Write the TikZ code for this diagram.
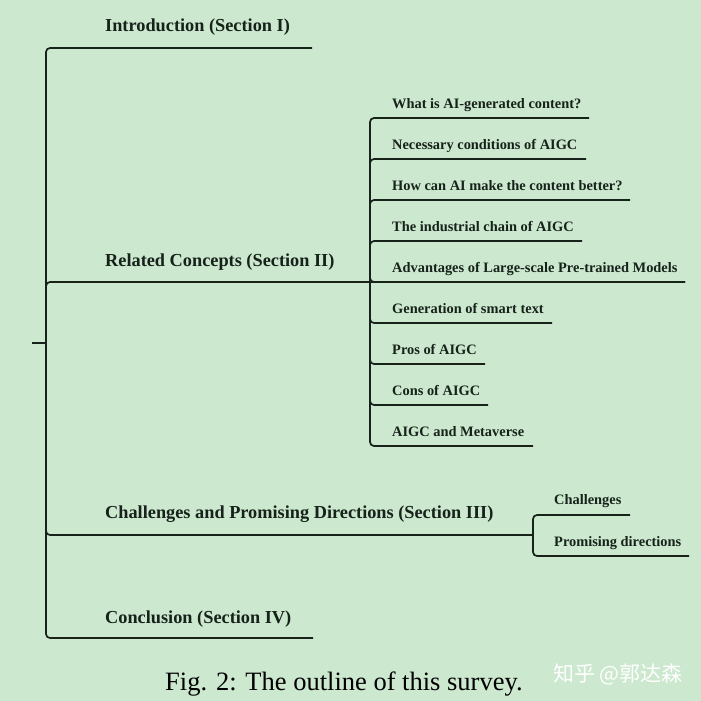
\documentclass[tikz,border=0pt]{standalone}
\usepackage{fontspec}
\setmainfont{Liberation Serif}
\newfontfamily\cjk{Noto Sans CJK SC}
\definecolor{bgcol}{RGB}{204,232,207}
\definecolor{inkcol}{RGB}{22,34,26}
\tikzset{
  branch/.style={draw=inkcol, line width=1.7pt, rounded corners=4pt},
  seclabel/.style={anchor=base west, inner sep=0pt, text=inkcol, font=\bfseries\fontsize{18.3}{20}\selectfont},
  sublabel/.style={anchor=base west, inner sep=0pt, text=inkcol, font=\bfseries\fontsize{14.4}{16}\selectfont},
}
\begin{document}
\begin{tikzpicture}[x=1pt, y=-1pt]
	%background and page size
	\fill[bgcol] (0,0) rectangle (701,701);
	\useasboundingbox (0,0) rectangle (701,701);
	
	%trunk
	\coordinate (root) at (46,343);
	\coordinate (stub) at (32,343);
	\draw[branch] (stub) -- (root);
	
	%sections
	\node[seclabel] (intro) at (105,32) {Introduction (Section I)};
	\coordinate (introend) at (312,48);
	\draw[branch] (root) |- (introend);
	
	\node[seclabel] (related) at (105,266) {Related Concepts (Section II)};
	\coordinate (relend) at (685,282);
	\coordinate (relsplit) at (370,282);
	\draw[branch] (root) |- (relend);
	
	\node[seclabel] (challenge) at (105,518) {Challenges and Promising Directions (Section III)};
	\coordinate (chalsplit) at (533,535);
	\draw[branch] (root) |- (chalsplit);
	
	\node[seclabel] (conclusion) at (105,623) {Conclusion (Section IV)};
	\coordinate (concend) at (313,638);
	\draw[branch] (root) |- (concend);
	
	%related concepts
	\foreach \name/\txt/\y/\xe in {what/What is AI-generated content?/118/589,
		cond/Necessary conditions of AIGC/159/586,
		better/How can AI make the content better?/200/630,
		chain/The industrial chain of AIGC/241/582,
		adv/Advantages of Large-scale Pre-trained Models/282/685,
		smart/Generation of smart text/323/552,
		pros/Pros of AIGC/364/485,
		cons/Cons of AIGC/405/488,
		meta/AIGC and Metaverse/446/533}{
		\node[sublabel] (\name) at (392,\y-9.5) {\txt};
		\coordinate (\name end) at (\xe,\y);
		\draw[branch] (relsplit) |- (\name end);
	}
	
	%challenges and directions
	\node[sublabel] (chal) at (554,504.5) {Challenges};
	\coordinate (chalend) at (630,515);
	\draw[branch] (chalsplit) |- (chalend);
	\node[sublabel] (promise) at (554,546) {Promising directions};
	\coordinate (promend) at (689,556);
	\draw[branch] (chalsplit) |- (promend);
	
	%caption
	\node[anchor=base west, inner sep=0pt, font=\fontsize{26.5}{28}\selectfont] (caption) at (165,690) {Fig. 2: The outline of this survey.};
	\node[anchor=base west, inner sep=0pt, text=white, font=\cjk\fontsize{21}{22}\selectfont] (mark) at (553,681) {知乎 @郭达森};
\end{tikzpicture}
\end{document}
